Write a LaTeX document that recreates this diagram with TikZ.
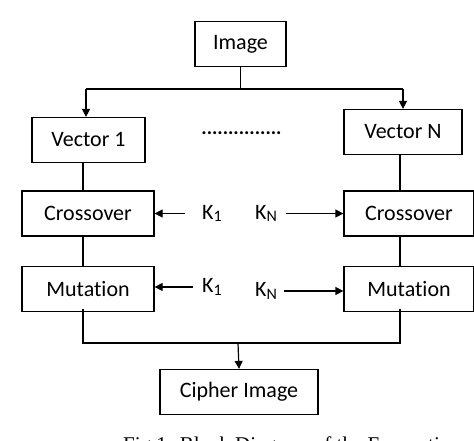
\documentclass[tikz,border=0pt]{standalone}
\usepackage{fontspec}
\newfontfamily\boxfont[Ligatures=NoCommon]{Carlito}
\newfontfamily\capfont{Liberation Serif}
\usetikzlibrary{positioning,arrows.meta}
\tikzset{block/.style={draw,line width=1.2pt,font=\boxfont\fontsize{22}{26}\selectfont,minimum width=#1,minimum height=45pt,inner sep=0pt},
  key/.style={font=\boxfont\fontsize{22}{26}\selectfont,inner sep=1pt},
  link/.style={line width=1.2pt},
  arr/.style={line width=1.2pt,-{Triangle[width=8pt,length=8pt]}}}
\newcommand{\keyk}[1]{K\raisebox{-2.5pt}{\fontsize{16}{16}\selectfont #1}}

\begin{document}
\begin{tikzpicture}[x=1pt,y=-1pt]
\clip (0,0) rectangle (474,441);
\fill[white] (0,0) rectangle (474,441);
% boxes
\node[block=91pt] (img) at (240.5,44) {Image};
\node[block=113pt] (vec1) at (88.5,140) {Vector 1};
\node[block=118pt] (vecN) at (403,132) {Vector N};
\node[block=132pt] (cross1) at (88,213.5) {Crossover};
\node[block=130pt] (crossN) at (409,213.5) {Crossover};
\node[block=132pt] (mut1) at (88,289) {Mutation};
\node[block=130pt] (mutN) at (409,289) {Mutation};
\node[block=158pt] (cipher) at (239,392) {Cipher Image};
\node[key,font=\boxfont\bfseries\fontsize{20}{24}\selectfont] (dots) at (241.5,133) {...............};
% keys
\node[key] (k1a) at (212,213.5) {\keyk{1}};
\node[key] (kNa) at (266,213.5) {\keyk{N}};
\node[key] (k1b) at (212,287) {\keyk{1}};
\node[key] (kNb) at (266,291) {\keyk{N}};
% columns
\coordinate (topL) at (86,89);
\coordinate (topR) at (403,89);
\coordinate (colL) at (83,0);
\coordinate (colR) at (400,0);
\coordinate (join) at (238,343);
% split
\draw[link] (img.south) -- (img.south |- topL);
\draw[link] (topL) -- (topR);
\draw[arr] (topL) -- (topL |- vec1.north);
\draw[arr] (topR) -- (topR |- vecN.north);
% chains
\draw[link] (vec1.south -| colL) -- (cross1.north -| colL);
\draw[link] (cross1.south -| colL) -- (mut1.north -| colL);
\draw[link] (vecN.south -| colR) -- (crossN.north -| colR);
\draw[link] (crossN.south -| colR) -- (mutN.north -| colR);
% key arrows
\draw[arr,shorten <=16pt] (k1a.west) -- (k1a.west -| cross1.east);
\draw[arr,shorten <=8pt] (kNa.east) -- (kNa.east -| crossN.west);
\draw[arr,shorten <=8pt] (k1b.west) -- (k1b.west -| mut1.east);
\draw[arr,shorten <=6pt] (kNb.east) -- (kNb.east -| mutN.west);
% merge
\draw[link] ([yshift=3pt]mut1.south -| colL) |- (join);
\draw[link] ([yshift=3pt]mutN.south -| colR) |- (join);
\draw[arr] (join) -- (cipher.north);
\node[anchor=base west,font=\capfont\fontsize{21}{24}\selectfont,inner sep=0pt] (caption) at (123,451) {Fig 1: Block Diagram of the Encryption};
\end{tikzpicture}
\end{document}
